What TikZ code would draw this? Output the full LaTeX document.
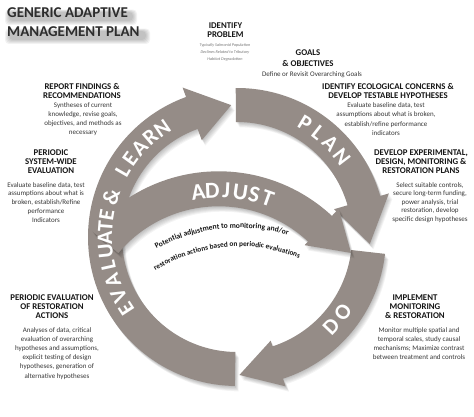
\documentclass[tikz,border=0pt]{standalone}
\usepackage{fontspec}
\setmainfont{Carlito}
\usetikzlibrary{calc,decorations.text}
\definecolor{band}{RGB}{149,140,135}
\definecolor{hd}{RGB}{22,22,22}
\definecolor{bd}{RGB}{55,55,55}
\definecolor{ttlc}{RGB}{45,45,45}
\definecolor{sm}{RGB}{120,120,120}
% band with a flat start and a triangular arrow head
\newcommand\bandpath[8]{(#1:#4pt) arc[start angle=#1,end angle=#2,radius=#4pt] -- (#2:#7pt) -- (#3:#6pt) -- (#2:#8pt) -- (#2:#5pt) arc[start angle=#2,end angle=#1,radius=#5pt] -- cycle}
\newcommand\bandshape[8]{%
  \foreach \k in {1,...,6}{\fill[black,opacity=0.045,xshift=\k*0.6pt,yshift=-\k*0.9pt] \bandpath{#1}{#2}{#3}{#4}{#5}{#6}{#7}{#8};}%
  \fill[band] \bandpath{#1}{#2}{#3}{#4}{#5}{#6}{#7}{#8};}
\tikzset{
  ttl/.style={font=\bfseries\fontsize{15}{19.5}\selectfont, text=ttlc, align=left, inner sep=0pt, anchor=north west},
  hdg/.style={font=\bfseries\fontsize{8.8}{9}\selectfont, text=hd, align=center, inner sep=0pt, anchor=north},
  bdy/.style={font=\fontsize{7}{9}\selectfont, text=bd, align=center, inner sep=0pt, anchor=north},
  tiny/.style={font=\itshape\fontsize{4.2}{7}\selectfont, text=sm, align=center, inner sep=0pt, anchor=north},
  arclt/.style={font=\bfseries\fontsize{22}{22}\selectfont, text=white, inner sep=0pt},
  tsh/.style={black, opacity=0.05, rounded corners=4pt},
}
\begin{document}
\begin{tikzpicture}[x=1pt,y=-1pt]
\useasboundingbox (0,0) rectangle (474,417);
\fill[white] (0,0) rectangle (474,417);

% ---- arrows of the cycle (centre 237,237)
\begin{scope}[shift={(237,237)}]
  \bandshape{-6.5}{-72}{-89}{149}{115}{138}{157}{109}   % DO
  \bandshape{90.5}{16}{-3}{149}{115}{133}{158}{101}     % PLAN
  \bandshape{269.2}{110}{92.5}{149}{115}{132}{159}{103} % EVALUATE & LEARN
\end{scope}
% ADJUST arrow
\begin{scope}[shift={(218.7,337.3)}]
  \bandshape{140}{47}{32.5}{166}{131}{157}{176}{126}
\end{scope}

% ---- letters on the arrows
\begin{scope}[shift={(237,237)}]
  \foreach \ch/\a [count=\i] in {E/213,V/206.5,A/199.5,L/192.5,U/186,A/180.5,T/175.5,E/170.5,\&/162.5,L/150,E/144,A/137.5,R/131,N/124.5}{
    \node[arclt, rotate=\a-90] (el\i) at (\a:132pt) {\ch};
  }
  \foreach \ch/\a [count=\i] in {P/59,L/52,A/45,N/37.5}{
    \node[arclt, rotate=\a-90] (pl\i) at (\a:132pt) {\ch};
  }
  \foreach \ch/\a [count=\i] in {D/-43.5,O/-35.5}{
    \node[arclt, rotate=\a+90] (do\i) at (\a:130pt) {\ch};
  }
\end{scope}
\begin{scope}[shift={(218.7,337.3)}]
  \foreach \ch/\a [count=\i] in {A/98,D/92.5,J/87,U/81.5,S/76,T/70.5}{
    \node[arclt, font=\bfseries\fontsize{23}{23}\selectfont, rotate=\a-90] (ad\i) at (\a:147pt) {\ch};
  }
\end{scope}

% ---- curved note under ADJUST
\begin{scope}[shift={(239.3,403)}]
  \path[decorate, decoration={text along path, text align=center,
     text={|\fontsize{7.6}{9}\selectfont\bfseries\color{hd}|Potential adjustment to monitoring and/or}}]
     (131.1:175pt) arc[start angle=131.1, end angle=61.1, radius=175pt];
  \path[decorate, decoration={text along path, text align=center,
     text={|\fontsize{7.3}{9}\selectfont\bfseries\color{hd}|restoration actions based on periodic evaluations}}]
     (134:156.5pt) arc[start angle=134, end angle=56, radius=156.5pt];
\end{scope}

% ---- title with soft shadow
\foreach \s in {0,...,4}{
  \fill[tsh] (9-\s,12-0.6*\s) rectangle (133+\s,21+\s);
  \fill[tsh] (9-\s,31-0.6*\s) rectangle (146+\s,40+\s);
}
\node[ttl] (title) at (7,7) {GENERIC ADAPTIVE\\MANAGEMENT PLAN};

% ---- text blocks
\node[hdg] (ip) at (225.5,23) {IDENTIFY\\PROBLEM};
\node[tiny] (ipb) at (225,43.5) {Typically Salmonid Population\\Declines Related to Tributary\\Habitat Degradation};

\node[hdg, font=\bfseries\fontsize{8.8}{10.5}\selectfont] (go) at (308,50) {GOALS\\\& OBJECTIVES};
\node[bdy] (gob) at (312,71) {Define or Revisit Overarching Goals};

\node[hdg] (ie) at (388,83) {IDENTIFY ECOLOGICAL CONCERNS \&\\DEVELOP TESTABLE HYPOTHESES};
\node[bdy, font=\fontsize{7}{9.6}\selectfont] (ieb) at (386,102) {Evaluate baseline data, test\\assumptions about what is broken,\\establish/refine performance\\indicators};

\node[hdg] (de) at (421,150) {DEVELOP EXPERIMENTAL,\\DESIGN, MONITORING \&\\RESTORATION PLANS};
\node[bdy, font=\fontsize{7}{8.6}\selectfont] (deb) at (430,182) {Select suitable controls,\\secure long-term funding,\\power analysis, trial\\restoration, develop\\specific design hypotheses};

\node[hdg] (im) at (415,295) {IMPLEMENT\\MONITORING\\\& RESTORATION};
\node[bdy] (imb) at (419,327) {Monitor multiple spatial and\\temporal scales, study causal\\mechanisms; Maximize contrast\\between treatment and controls};

\node[hdg] (pe) at (52,295) {PERIODIC EVALUATION\\OF RESTORATION\\ACTIONS};
\node[bdy, font=\fontsize{7}{9.2}\selectfont] (peb) at (57,327) {Analyses of data, critical\\evaluation of overarching\\hypotheses and assumptions,\\explicit testing of design\\hypotheses, generation of\\alternative hypotheses};

\node[hdg, font=\bfseries\fontsize{8.8}{8.6}\selectfont] (ps) at (51,150) {PERIODIC\\SYSTEM-WIDE\\EVALUATION};
\node[bdy, font=\fontsize{7}{8.8}\selectfont] (psb) at (46,182) {Evaluate baseline data, test\\assumptions about what is\\broken, establish/Refine\\performance\\Indicators};

\node[hdg] (rf) at (82,83) {REPORT FINDINGS \&\\RECOMMENDATIONS};
\node[bdy] (rfb) at (83,102) {Syntheses of current\\knowledge, revise goals,\\objectives, and methods as\\necessary};
\end{tikzpicture}
\end{document}
